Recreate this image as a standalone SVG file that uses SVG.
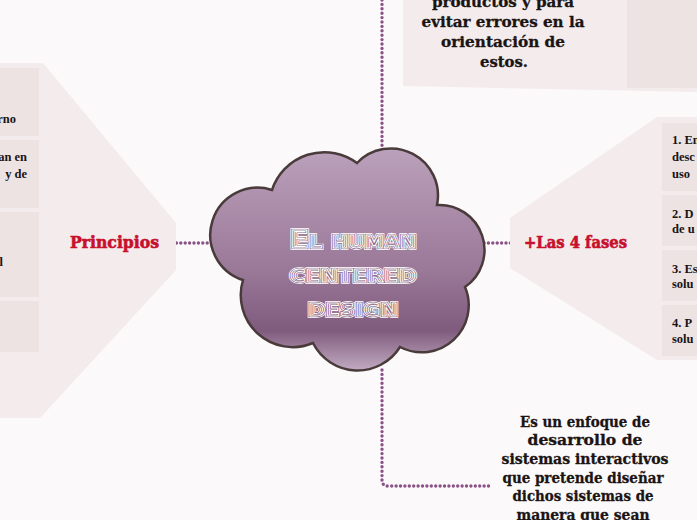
<svg xmlns="http://www.w3.org/2000/svg" width="697" height="520" viewBox="0 0 697 520">
<defs>
<style>
.panel{fill:#f4ecec}
.box{fill:#ede3e3}
.dot{fill:none;stroke:#8a5388;stroke-width:3.4;stroke-linecap:round;stroke-dasharray:0 4.4}
.lbl{font-family:"DejaVu Serif",serif;font-weight:bold;fill:#c8102e;stroke:#c8102e;stroke-width:0.6;font-size:16px}
.body{font-family:"DejaVu Serif",serif;font-weight:bold;fill:#1a1414;stroke:#1a1414;stroke-width:0.3;font-size:14px;text-anchor:middle}
.fancy{font-family:"Liberation Serif",serif;font-weight:bold;fill:#1a1414;font-size:12.5px}
.ct{font-family:"DejaVu Sans",sans-serif;font-weight:bold;font-size:24px;font-variant:small-caps;text-anchor:middle}
</style>
<linearGradient id="cg" x1="0" y1="0" x2="0" y2="1">
<stop offset="0" stop-color="#bba1bb"/>
<stop offset="0.55" stop-color="#9a7898"/>
<stop offset="0.82" stop-color="#7f5b7d"/>
<stop offset="1" stop-color="#c2abc2"/>
</linearGradient>
</defs>
<rect width="697" height="520" fill="#fcf9fa"/>

<g id="connectors">
<path class="dot" d="M382 0 V150"/>
<path class="dot" d="M382 370 V480 Q382 486 388 486 H490"/>
<path class="dot" d="M172 243 H212"/>
<path class="dot" d="M484 243 H515"/>
</g>

<g id="top-node">
<polygon class="panel" points="403,0 697,0 697,92 403,86"/>
<rect class="box" x="627" y="0" width="70" height="88"/>
<text class="body" x="503" y="7" textLength="142" lengthAdjust="spacingAndGlyphs">productos y para</text>
<text class="body" x="503" y="27" textLength="163" lengthAdjust="spacingAndGlyphs">evitar errores en la</text>
<text class="body" x="503" y="47" textLength="124" lengthAdjust="spacingAndGlyphs">orientación de</text>
<text class="body" x="504" y="67" textLength="48" lengthAdjust="spacingAndGlyphs">estos.</text>
</g>

<g id="principios">
<polygon class="panel" points="0,63 43,63 176,223 176,270 40,418 0,418"/>
<rect class="box" x="0" y="68" width="39" height="68"/>
<rect class="box" x="0" y="140" width="39" height="68"/>
<rect class="box" x="0" y="212" width="39" height="85"/>
<rect class="box" x="0" y="301" width="39" height="51"/>
<text class="fancy" x="16" y="123" text-anchor="end">rno</text>
<text class="fancy" x="27" y="161" text-anchor="end">an en</text>
<text class="fancy" x="27" y="178" text-anchor="end">y de</text>
<text class="fancy" x="3" y="266" text-anchor="end">l</text>
<text class="lbl" x="70" y="248" textLength="89" lengthAdjust="spacingAndGlyphs">Principios</text>
</g>

<g id="fases">
<polygon class="panel" points="510,218 657,117 697,117 697,360 657,360 510,268"/>
<rect class="box" x="662" y="123" width="35" height="68"/>
<rect class="box" x="662" y="195" width="35" height="51"/>
<rect class="box" x="662" y="250" width="35" height="51"/>
<rect class="box" x="662" y="305" width="35" height="51"/>
<text class="fancy" x="672" y="144">1. En</text>
<text class="fancy" x="672" y="161">desc</text>
<text class="fancy" x="672" y="178">uso</text>
<text class="fancy" x="672" y="218">2. D</text>
<text class="fancy" x="672" y="233">de u</text>
<text class="fancy" x="672" y="273">3. Es</text>
<text class="fancy" x="672" y="288">solu</text>
<text class="fancy" x="672" y="327">4. P</text>
<text class="fancy" x="672" y="343">solu</text>
<text class="lbl" x="524" y="248" textLength="103" lengthAdjust="spacingAndGlyphs">+Las 4 fases</text>
</g>

<g id="center">
<path d="M272 190 A55 55 0 0 1 357 163 A47 47 0 0 1 437 205 A45 45 0 0 1 465 287 A47 47 0 0 1 400 347 A50 50 0 0 1 313 343 A52 52 0 0 1 243 280 A47 47 0 0 1 272 190 Z" fill="url(#cg)" stroke="#4a3b3b" stroke-width="2.5"/>
<g class="ct">
<text x="353" y="248" textLength="126" lengthAdjust="spacingAndGlyphs" fill="none" stroke="#fff" stroke-width="3.6">El human</text>
<text x="353" y="248" textLength="126" lengthAdjust="spacingAndGlyphs" fill="none" stroke="#8c6a8a" stroke-width="2.2">El human</text>
<text x="353" y="248" textLength="126" lengthAdjust="spacingAndGlyphs" fill="none" stroke="#fff" stroke-width="0.9">El human</text>
<text x="353" y="282" textLength="126" lengthAdjust="spacingAndGlyphs" fill="none" stroke="#fff" stroke-width="3.6">centered</text>
<text x="353" y="282" textLength="126" lengthAdjust="spacingAndGlyphs" fill="none" stroke="#8c6a8a" stroke-width="2.2">centered</text>
<text x="353" y="282" textLength="126" lengthAdjust="spacingAndGlyphs" fill="none" stroke="#fff" stroke-width="0.9">centered</text>
<text x="353" y="316" textLength="90" lengthAdjust="spacingAndGlyphs" fill="none" stroke="#fff" stroke-width="3.6">design</text>
<text x="353" y="316" textLength="90" lengthAdjust="spacingAndGlyphs" fill="none" stroke="#7f5d7d" stroke-width="2.2">design</text>
<text x="353" y="316" textLength="90" lengthAdjust="spacingAndGlyphs" fill="none" stroke="#fff" stroke-width="0.9">design</text>
</g>
</g>

<g id="definicion">
<text class="body" x="585" y="427" textLength="130" lengthAdjust="spacingAndGlyphs">Es un enfoque de</text>
<text class="body" x="585" y="445" textLength="115" lengthAdjust="spacingAndGlyphs">desarrollo de</text>
<text class="body" x="585" y="464" textLength="167" lengthAdjust="spacingAndGlyphs">sistemas interactivos</text>
<text class="body" x="583" y="483" textLength="161" lengthAdjust="spacingAndGlyphs">que pretende diseñar</text>
<text class="body" x="583" y="501" textLength="141" lengthAdjust="spacingAndGlyphs">dichos sistemas de</text>
<text class="body" x="583" y="520" textLength="133" lengthAdjust="spacingAndGlyphs">manera que sean</text>
</g>
</svg>
